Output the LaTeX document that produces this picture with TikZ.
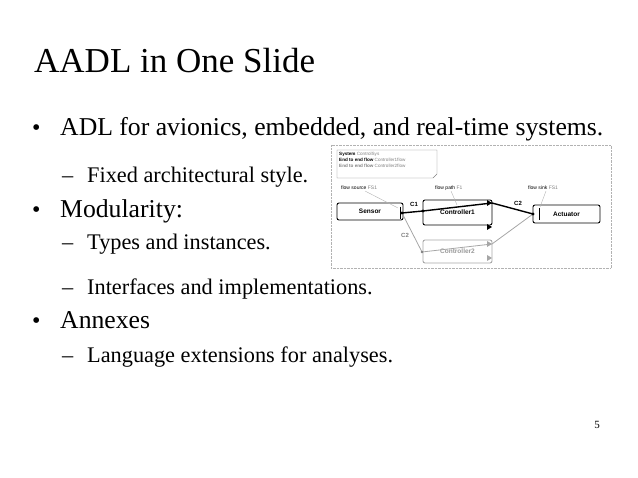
\documentclass[tikz,border=0pt]{standalone}
\usepackage{fontspec}
\setmainfont{Liberation Serif}
\newfontfamily\sfa{Liberation Sans}
\begin{document}
\begin{tikzpicture}[x=1pt,y=-1pt,
  comp/.style={draw,rounded corners=2pt,line width=0.9pt,inner sep=0pt,font=\sfa\bfseries\fontsize{6.5}{7}\selectfont},
  gcomp/.style={comp,draw=gray!70,text=gray!80},
  lab/.style={font=\sfa\fontsize{5}{6}\selectfont,anchor=west,inner sep=0pt},
  bul/.style={anchor=base west,inner sep=0pt,font=\fontsize{25.7}{28}\selectfont},
  bdot/.style={anchor=base west,inner sep=0pt,font=\fontsize{24}{26}\selectfont},
  sub/.style={anchor=base west,inner sep=0pt,font=\fontsize{22.3}{24}\selectfont}]
\useasboundingbox (0,0) rectangle (638,478);
\node[anchor=base west,inner sep=0pt,font=\fontsize{35}{38}\selectfont] (title) at (34,73) {AADL in One Slide};
\node[bdot] (b1) at (32,136) {\textbullet};
\node[bul] (t1) at (60,136) {ADL for avionics, embedded, and real-time systems.};
\node[sub] (d1) at (62,183) {--};
\node[sub] (s1) at (87,183) {Fixed architectural style.};
\node[bdot] (b2) at (32,218) {\textbullet};
\node[bul] (t2) at (60,218) {Modularity:};
\node[sub] (d2) at (62,250) {--};
\node[sub] (s2) at (87,250) {Types and instances.};
\node[sub] (d3) at (62,295) {--};
\node[sub] (s3) at (87,295) {Interfaces and implementations.};
\node[bdot] (b3) at (32,329) {\textbullet};
\node[bul] (t3) at (60,329) {Annexes};
\node[sub] (d4) at (62,363) {--};
\node[sub] (s4) at (87,363) {Language extensions for analyses.};
\node[anchor=base,inner sep=0pt,font=\fontsize{11}{12}\selectfont] (pg) at (597,429) {5};
% inset
\draw[gray!60,densely dotted] (331,145) rectangle (611,268);
\draw[gray] (337,150) -- (437,150) -- (437,174) -- (433,178) -- (337,178) -- cycle;
\node[lab,align=left,anchor=north west,font=\sfa\fontsize{4.6}{6}\selectfont] (note) at (339,152)
 {\textbf{System} {\color{gray}ControlSys}\\\textbf{End to end flow} {\color{gray}Controller1flow}\\{\color{gray}\textbf{End to end flow} Controller2flow}};
\node[comp,minimum width=66pt,minimum height=17pt] (sen) at (370,211.5) {Sensor};
\node[comp,minimum width=69pt,minimum height=25pt,text depth=-8pt] (c1) at (457.5,212.5) {Controller1};
\node[gcomp,minimum width=69pt,minimum height=23pt,text depth=-7pt] (c2) at (457.5,251.5) {Controller2};
\node[comp,minimum width=67pt,minimum height=18pt] (act) at (566.5,214) {Actuator};
\coordinate (sp) at (402,213);
\coordinate (c1i) at (423,211);
\coordinate (c1o) at (492,203);
\coordinate (c2i) at (422,252);
\coordinate (c2o) at (492,244);
\coordinate (ai) at (533,214);
\draw[gray!70,line width=0.8pt] (sp) -- (c2i) -- (c2o) -- (ai);
\draw[line width=1.4pt] (sp) -- (c1i) -- (c1o) -- (ai);
\draw[line width=1pt] (400,207) -- (400,219);
\draw[line width=1pt] (539,208) -- (539,220);
\fill (sp) circle (1.6pt) (c1i) circle (1.6pt) (ai) circle (1.6pt);
\fill[gray] (c2i) circle (1.3pt);
\fill (c1o) -- ++(-5,-3) -- ++(0,6) -- cycle;
\fill (492,227) -- ++(-5,-3) -- ++(0,6) -- cycle;
\fill[gray!70] (c2o) -- ++(-5,-3) -- ++(0,6) -- cycle;
\fill[gray!70] (492,258) -- ++(-5,-3) -- ++(0,6) -- cycle;
\node[lab] (fs) at (341,188) {flow source {\color{gray}FS1}};
\node[lab] (fp) at (435,188) {flow path {\color{gray}F1}};
\node[lab] (fk) at (528,188) {flow sink {\color{gray}FS1}};
\draw[gray!60,thin] (365,191) -- (398,208);
\draw[gray!60,thin] (451,191) -- (457,205);
\draw[gray!60,thin] (546,191) -- (540,207);
\node[lab,font=\sfa\bfseries\fontsize{6}{7}\selectfont] (lc1) at (410,204) {C1};
\node[lab,font=\sfa\bfseries\fontsize{6}{7}\selectfont] (lc2) at (514,203) {C2};
\node[lab,font=\sfa\bfseries\fontsize{6}{7}\selectfont,text=gray] (lc3) at (401,235) {C2};
\end{tikzpicture}
\end{document}
